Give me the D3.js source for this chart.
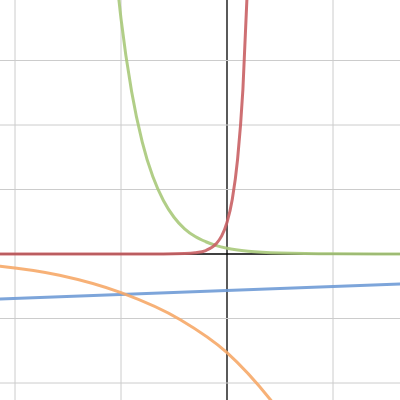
<!DOCTYPE html>
<html><head><script src="https://cdn.jsdelivr.net/npm/d3@7"></script>
<style>body{margin:0;background:#fff}</style></head><body>
<svg id="c" width="400" height="400"></svg>
<script>
const xTicks=[-2,-1,0,1];
const yTicks=[-2,-1,0,1,2,3];
const redPts=[[-2.3,0],[-1,0],[-0.6,0.001],[-0.4,0.006],[-0.3,0.018],[-0.2,0.054],[-0.1,0.163],[-0.05,0.28],[0,0.49],[0.05,0.85],[0.1,1.47],[0.15,2.55],[0.2,4.4]];
const greenPts=[[-1.1,5.3],[-1,3.65],[-0.9,2.52],[-0.8,1.74],[-0.7,1.2],[-0.6,0.83],[-0.5,0.57],[-0.4,0.39],[-0.3,0.27],[-0.2,0.19],[-0.1,0.13],[0,0.09],[0.2,0.043],[0.5,0.014],[1,0.002],[1.8,0]];
const bluePts=[[-2.2,-0.70],[1.7,-0.46]];
const orangePts=[[-2.2,-0.18],[-2.14,-0.19],[-1.58,-0.33],[-1,-0.60],[-0.44,-1.02],[0,-1.53],[0.41,-2.26],[0.5,-2.45]];
const svg=d3.select("#c");
const x=d3.scaleLinear().domain([-2,1]).range([15,333]);
const y=d3.scaleLinear().domain([-2,1]).range([383,189.5]);
const g=svg.append("g");
g.selectAll(".vx").data(xTicks).enter().append("line").attr("x1",d=>x(d)).attr("x2",d=>x(d)).attr("y1",0).attr("y2",400).attr("stroke",d=>d===0?"#000":"#ccc").attr("stroke-width",d=>d===0?1.3:1);
g.selectAll(".hy").data(yTicks).enter().append("line").attr("y1",d=>y(d)).attr("y2",d=>y(d)).attr("x1",0).attr("x2",400).attr("stroke",d=>d===0?"#000":"#ccc").attr("stroke-width",d=>d===0?1.3:1);
const line=d3.line().x(d=>x(d[0])).y(d=>y(d[1])).curve(d3.curveMonotoneX);
const series=[[bluePts,"#6f9bd6"],[orangePts,"#f6a868"],[greenPts,"#a8c97a"],[redPts,"#c96164"]];
series.forEach(([pts,c])=>svg.append("path").attr("d",line(pts)).attr("fill","none").attr("stroke",c).attr("stroke-width",3).attr("opacity",0.9));
</script></body></html>
